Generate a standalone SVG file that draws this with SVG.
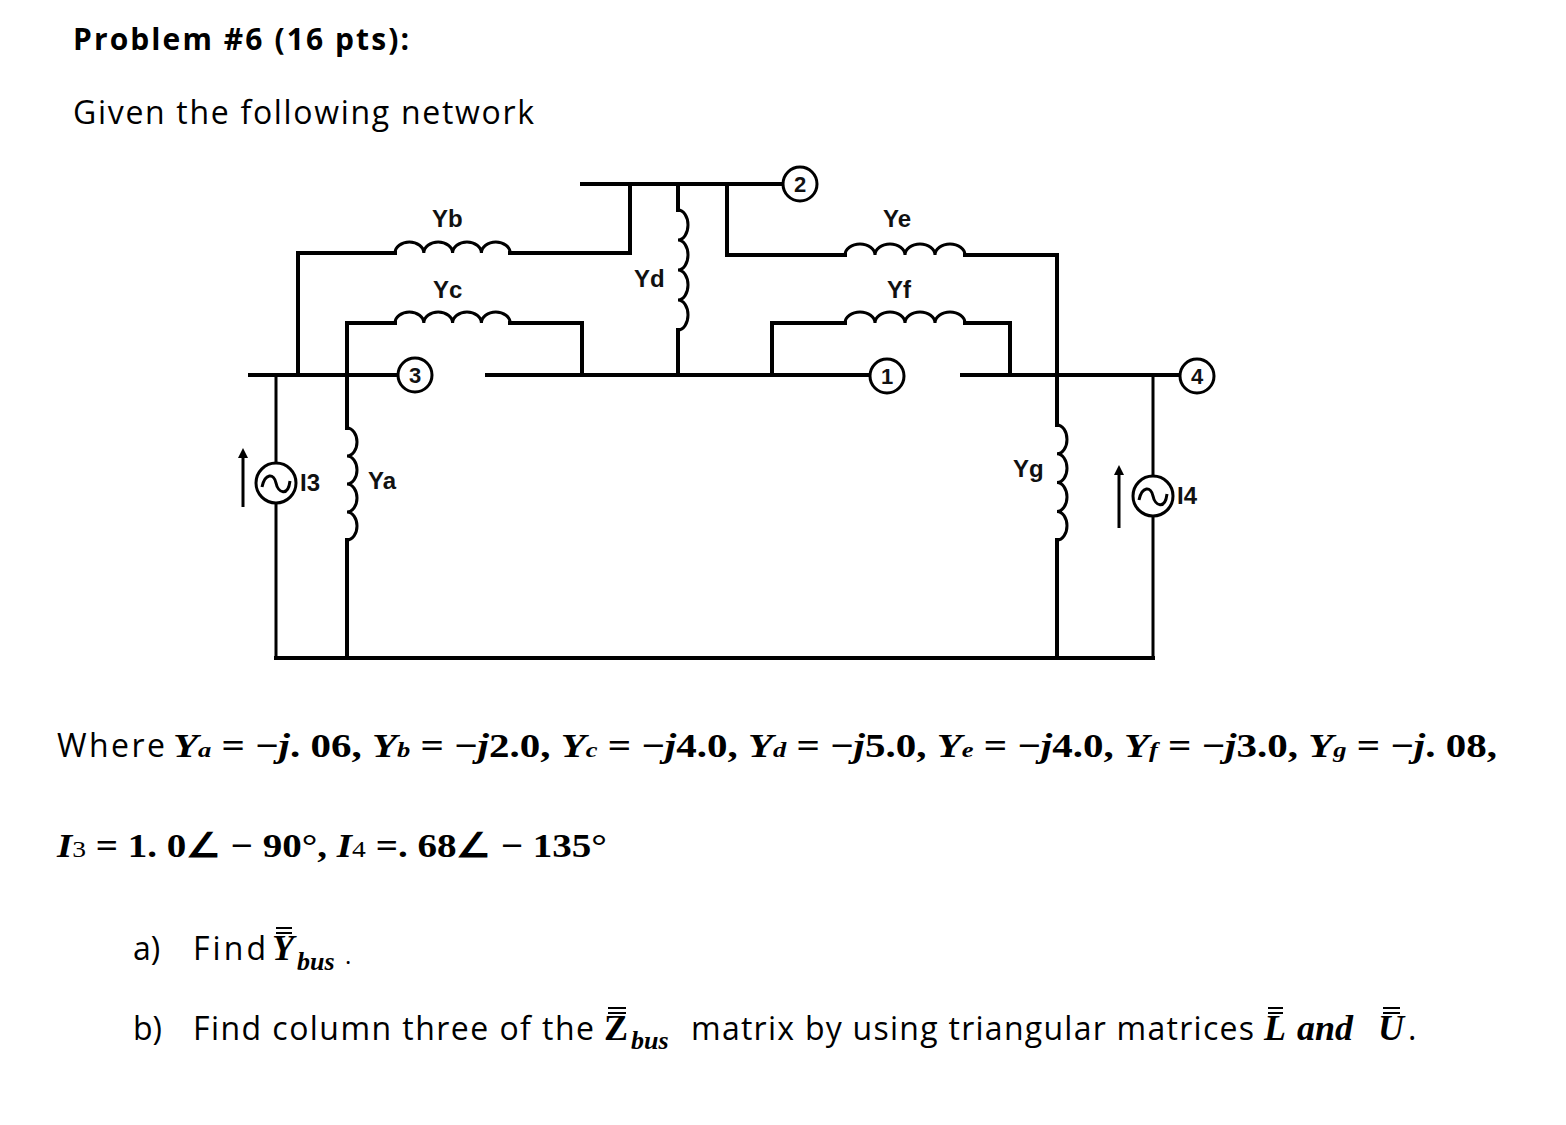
<svg xmlns="http://www.w3.org/2000/svg" width="1566" height="1125" viewBox="0 0 1566 1125">
<style>
.w{stroke:#000;stroke-width:4;fill:none;stroke-linecap:square}
.t{stroke:#000;stroke-width:3;fill:none}
.c{stroke:#000;stroke-width:3;fill:#fff}
.lbl{font-family:"Liberation Sans",Arial,sans-serif;font-size:24px;font-weight:bold;fill:#111}
.num{font-family:"Liberation Sans",Arial,sans-serif;font-size:22px;font-weight:bold;text-anchor:middle;fill:#111}
.s{font-family:"Open Sans","Liberation Sans",sans-serif;fill:#000}
.m{font-family:"Liberation Serif",serif;font-weight:bold;fill:#000}
.ol{stroke:#000;stroke-width:2}
</style>
<rect width="1566" height="1125" fill="#fff"/>
<text class="s" x="73" y="50" font-size="30" font-weight="bold" textLength="336">Problem #6 (16 pts):</text>
<text class="s" x="73" y="124" font-size="32" textLength="461">Given the following network</text>

<g id="connectors">
<path class="w" d="M250 375H400"/>
<path class="w" d="M487 375H870"/>
<path class="w" d="M962 375H1180"/>
<path class="w" d="M582 184H785"/>
<path class="w" d="M298 375V253H395M510 253H630V184"/>
<path class="w" d="M347 375V323H395M510 323H582V375"/>
<path class="w" d="M678 184V210M678 330V375"/>
<path class="w" d="M727 184V255H845M965 255H1057V375"/>
<path class="w" d="M772 375V323H845M965 323H1010V375"/>
<path class="w" d="M347 375V428M347 540V658"/>
<path class="t" d="M276 375V463M276 503V658"/>
<path class="w" d="M1057 375V425M1057 540V658"/>
<path class="t" d="M1153 375V476M1153 516V658"/>
<path class="w" d="M276 658H1153"/>
</g>

<g id="Yb"><path class="t" d="M395 253a14.4 11 0 0 1 28.8 0a14.4 11 0 0 1 28.8 0a14.4 11 0 0 1 28.8 0a14.4 11 0 0 1 28.8 0"/><text class="lbl" x="432" y="227">Yb</text></g>
<g id="Yc"><path class="t" d="M395 323a14.4 11 0 0 1 28.8 0a14.4 11 0 0 1 28.8 0a14.4 11 0 0 1 28.8 0a14.4 11 0 0 1 28.8 0"/><text class="lbl" x="433" y="298">Yc</text></g>
<g id="Ye"><path class="t" d="M845 255a15 11 0 0 1 30 0a15 11 0 0 1 30 0a15 11 0 0 1 30 0a15 11 0 0 1 30 0"/><text class="lbl" x="883" y="227">Ye</text></g>
<g id="Yf"><path class="t" d="M845 323a15 11 0 0 1 30 0a15 11 0 0 1 30 0a15 11 0 0 1 30 0a15 11 0 0 1 30 0"/><text class="lbl" x="887" y="298">Yf</text></g>
<g id="Yd"><path class="t" d="M678 210a10 15 0 0 1 0 30a10 15 0 0 1 0 30a10 15 0 0 1 0 30a10 15 0 0 1 0 30"/><text class="lbl" x="634" y="287">Yd</text></g>
<g id="Ya"><path class="t" d="M347 428a10 14 0 0 1 0 28a10 14 0 0 1 0 28a10 14 0 0 1 0 28a10 14 0 0 1 0 28"/><text class="lbl" x="368" y="489">Ya</text></g>
<g id="Yg"><path class="t" d="M1057 425a10 14.4 0 0 1 0 28.8a10 14.4 0 0 1 0 28.8a10 14.4 0 0 1 0 28.8a10 14.4 0 0 1 0 28.8"/><text class="lbl" x="1013" y="477">Yg</text></g>

<g id="I3">
<circle class="t" cx="276" cy="483" r="20"/>
<path class="t" d="M262 487c3-14 12-14 14-4s12 14 14-2"/>
<path class="t" d="M243 507V455"/><path d="M238 458L243 448L248 458Z" fill="#000"/>
<text class="lbl" x="300" y="491" font-size="22">I3</text>
</g>
<g id="I4">
<circle class="t" cx="1153" cy="496" r="20"/>
<path class="t" d="M1139 500c3-14 12-14 14-4s12 14 14-2"/>
<path class="t" d="M1119 528V472"/><path d="M1114 475L1119 465L1124 475Z" fill="#000"/>
<text class="lbl" x="1177" y="504" font-size="22">I4</text>
</g>

<g id="bus3"><circle class="c" cx="415" cy="375" r="17"/><text class="num" x="415" y="383">3</text></g>
<g id="bus1"><circle class="c" cx="887" cy="376" r="17"/><text class="num" x="887" y="384">1</text></g>
<g id="bus4"><circle class="c" cx="1197" cy="376" r="17"/><text class="num" x="1197" y="384">4</text></g>
<g id="bus2"><circle class="c" cx="800" cy="184" r="17"/><text class="num" x="800" y="192">2</text></g>

<text class="s" x="57" y="757" font-size="32" textLength="108">Where</text>
<text class="m" x="173" y="757" font-size="34" textLength="1324" lengthAdjust="spacingAndGlyphs"><tspan font-style="italic">Y</tspan><tspan font-style="italic" font-size="22">a</tspan> = −<tspan font-style="italic">j</tspan>. 06, <tspan font-style="italic">Y</tspan><tspan font-style="italic" font-size="22">b</tspan> = −<tspan font-style="italic">j</tspan>2.0, <tspan font-style="italic">Y</tspan><tspan font-style="italic" font-size="22">c</tspan> = −<tspan font-style="italic">j</tspan>4.0, <tspan font-style="italic">Y</tspan><tspan font-style="italic" font-size="22">d</tspan> = −<tspan font-style="italic">j</tspan>5.0, <tspan font-style="italic">Y</tspan><tspan font-style="italic" font-size="22">e</tspan> = −<tspan font-style="italic">j</tspan>4.0, <tspan font-style="italic">Y</tspan><tspan font-style="italic" font-size="22">f</tspan> = −<tspan font-style="italic">j</tspan>3.0, <tspan font-style="italic">Y</tspan><tspan font-style="italic" font-size="22">g</tspan> = −<tspan font-style="italic">j</tspan>. 08,</text>
<text class="m" x="57" y="857" font-size="34" textLength="550" lengthAdjust="spacingAndGlyphs"><tspan font-style="italic">I</tspan><tspan font-size="24" font-weight="normal">3</tspan> = 1. 0∠ − 90°, <tspan font-style="italic">I</tspan><tspan font-size="24" font-weight="normal">4</tspan> =. 68∠ − 135°</text>

<text class="s" x="133" y="960" font-size="32">a)</text>
<text class="s" x="193" y="960" font-size="32" textLength="73">Find</text>
<text class="m" x="272" y="960" font-size="36" font-style="italic">Y</text>
<path class="ol" d="M276 928H292M276 933H292"/>
<text class="m" x="297" y="970" font-size="26" font-style="italic">bus</text>
<text class="s" x="345" y="964" font-size="24">.</text>

<text class="s" x="133" y="1040" font-size="32">b)</text>
<text class="s" x="193" y="1040" font-size="32" textLength="401">Find column three of the</text>
<text class="m" x="604" y="1040" font-size="36">Z</text>
<path class="ol" d="M608 1008H626M608 1013H626"/>
<text class="m" x="631" y="1049" font-size="26" font-style="italic">bus</text>
<text class="s" x="691" y="1040" font-size="32" textLength="563">matrix by using triangular matrices</text>
<text class="m" x="1264" y="1040" font-size="36" font-style="italic">L</text>
<path class="ol" d="M1268 1008H1283M1268 1013H1283"/>
<text class="m" x="1297" y="1040" font-size="36" font-style="italic">and</text>
<text class="m" x="1378" y="1040" font-size="36" font-style="italic">U</text>
<path class="ol" d="M1383 1008H1400M1383 1013H1400"/>
<text class="s" x="1408" y="1040" font-size="32">.</text>
</svg>
